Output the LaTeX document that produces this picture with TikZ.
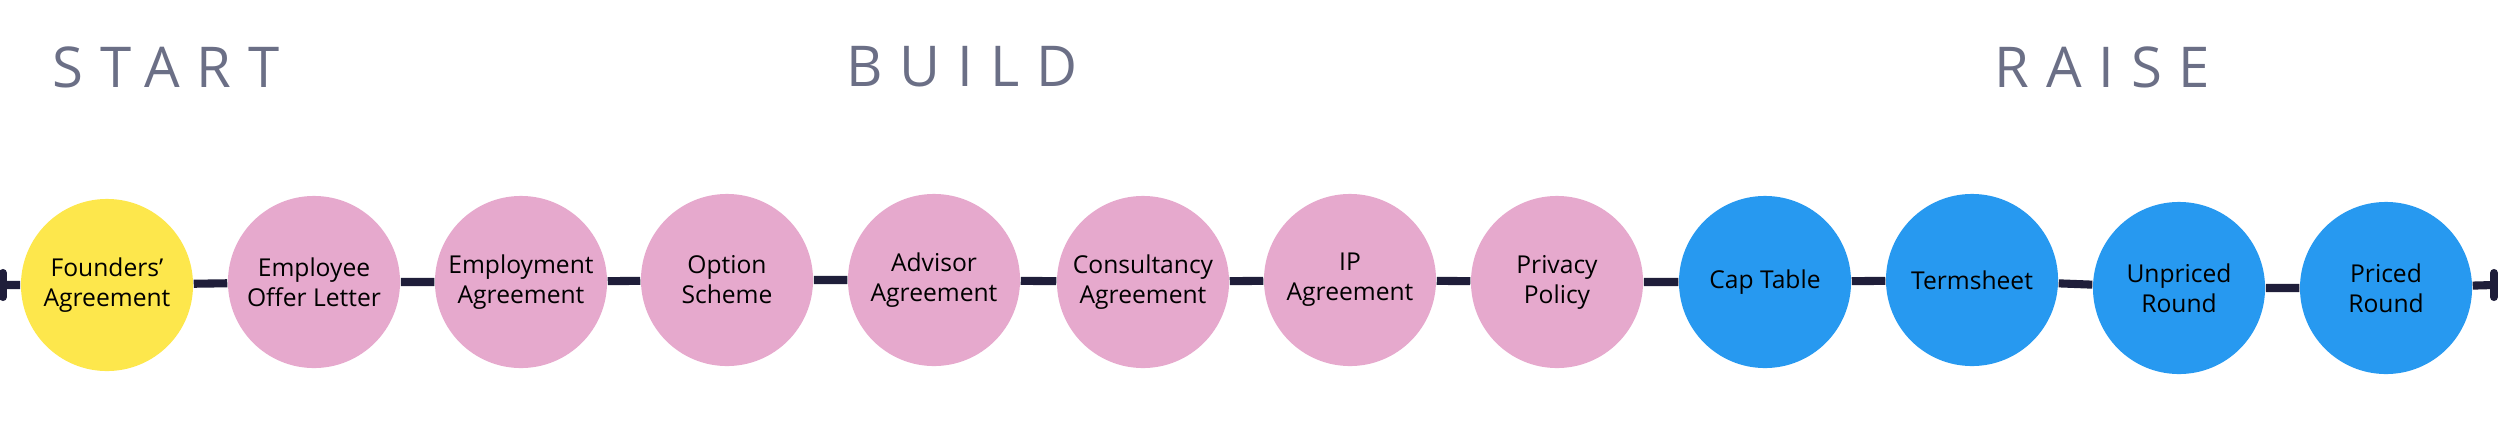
\documentclass[tikz,border=0pt]{standalone}
\usepackage{fontspec}
\setmainfont{Open Sans}
\definecolor{yel}{HTML}{FDE74C}
\definecolor{pnk}{HTML}{E6A9CD}
\definecolor{blu}{HTML}{2799F0}
\definecolor{ln}{HTML}{1F1E3A}
\definecolor{hd}{HTML}{6B6F86}
\begin{document}
\begin{tikzpicture}[x=0.01cm,y=-0.01cm,
  st/.style={circle,minimum size=1.72cm,inner sep=0pt,align=center,font=\fontsize{7}{8.5}\selectfont,text=black},
  hdr/.style={anchor=west,text=hd,font=\fontsize{16}{18}\selectfont\addfontfeature{LetterSpace=30}},
  conn/.style={draw=ln,line width=2.3pt}]
\useasboundingbox (0,0) rectangle (2500,430);
\node[hdr] (h1) at (40,67) {START};
\node[hdr] (h2) at (834,67) {BUILD};
\node[hdr] (h3) at (1982,67) {RAISE};
\coordinate (L) at (3,285);
\coordinate (R) at (2494,285);
\node[st,fill=yel] (n1) at (107,285) {Founders'\\Agreement};
\node[st,fill=pnk] (n2) at (314,282) {Employee\\Offer Letter};
\node[st,fill=pnk] (n3) at (521,282) {Employment\\Agreement};
\node[st,fill=pnk] (n4) at (727,280) {Option\\Scheme};
\node[st,fill=pnk] (n5) at (934,280) {Advisor\\Agreement};
\node[st,fill=pnk] (n6) at (1143,282) {Consultancy\\Agreement};
\node[st,fill=pnk] (n7) at (1350,280) {IP\\Agreement};
\node[st,fill=pnk] (n8) at (1557,282) {Privacy\\Policy};
\node[st,fill=blu] (n9) at (1765,282) {Cap Table};
\node[st,fill=blu] (n10) at (1972,280) {Termsheet};
\node[st,fill=blu] (n11) at (2179,288) {Unpriced\\Round};
\node[st,fill=blu] (n12) at (2386,288) {Priced\\Round};
\begin{scope}[on background layer/.try]
\end{scope}
\draw[conn] (L) -- (n1) (n1) -- (n2) (n2) -- (n3) (n3) -- (n4) (n4) -- (n5) (n5) -- (n6) (n6) -- (n7) (n7) -- (n8) (n8) -- (n9) (n9) -- (n10) (n10) -- (n11) (n11) -- (n12) (n12) -- (R);
\draw[ln,line width=2.3pt,line cap=round] ([yshift=-0.12cm]L) -- ([yshift=0.12cm]L);
\draw[ln,line width=2.3pt,line cap=round] ([yshift=-0.12cm]R) -- ([yshift=0.12cm]R);
\end{tikzpicture}
\end{document}
